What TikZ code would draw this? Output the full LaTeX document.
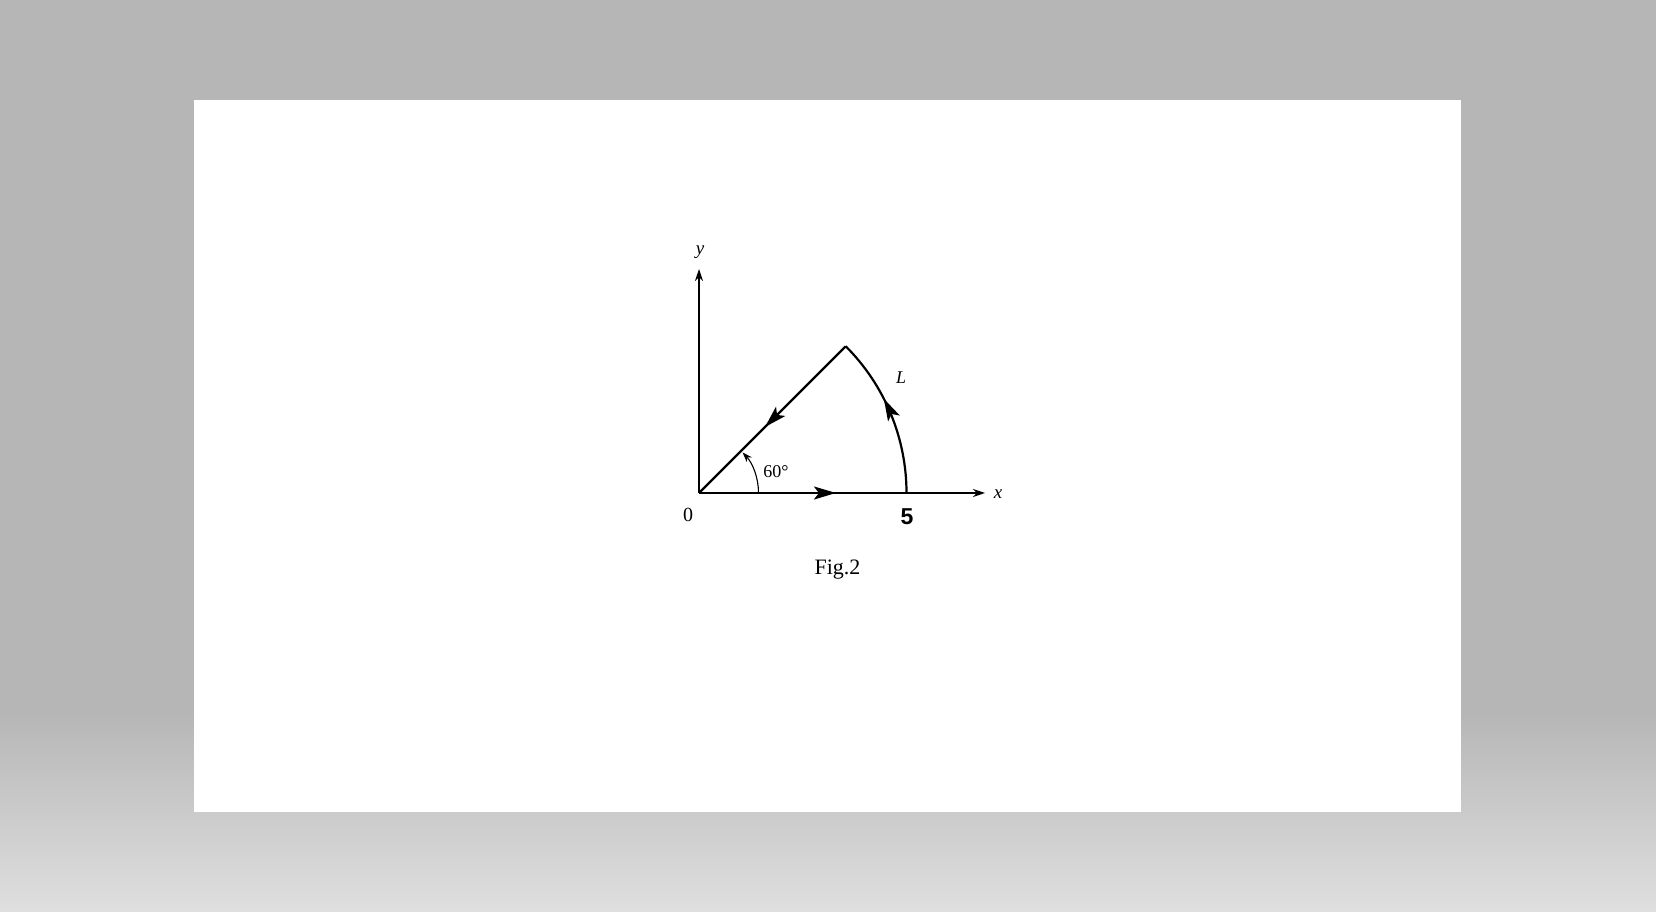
\documentclass[tikz,border=0pt]{standalone}
\usepackage{fontspec}
\setmainfont{Liberation Serif}
\newfontfamily\sansbold{Liberation Sans}
\usetikzlibrary{arrows.meta,decorations.markings,calc}
\definecolor{bggray}{HTML}{B5B6B5}
\definecolor{bglight}{HTML}{DEDFDE}
\begin{document}
\begin{tikzpicture}[x=1pt,y=1pt,
  axisline/.style={line width=1.3pt,-{Stealth[length=12pt,width=8pt]}},
  pathline/.style={line width=2.2pt},
  midarrow/.style={postaction={decorate},decoration={markings,
     mark=at position #1 with {\arrow{Stealth[length=22pt,width=13pt,inset=5pt]}}}},
  lbl/.style={inner sep=0pt,font=\fontsize{19}{22}\selectfont}]
\useasboundingbox (0,0) rectangle (1656,912);
\fill[bggray] (0,0) rectangle (1656,912);
\shade[top color=bggray,bottom color=bglight] (0,0) rectangle (1656,200);
\fill[white] (194,100) rectangle (1461,812);
% points
\coordinate (O) at (699,419);
\coordinate (A) at (906.5,419);
\coordinate (P) at (845.7,565.7);
\coordinate (Yend) at (699,643);
\coordinate (Xend) at (985,419);
\coordinate (Astart) at (758.5,419);
% axes
\draw[axisline] (O) -- (Yend);
\draw[axisline] (O) -- (Xend);
% closed path L
\draw[pathline,midarrow=0.66] (O) -- (A);
\draw[pathline,midarrow=0.6] (A) arc[start angle=0,end angle=45,radius=207.5];
\draw[pathline,midarrow=0.55,line join=round] (P) -- (O);
% angle mark
\draw[line width=1.1pt,-{Stealth[length=10pt,width=7pt]}] (Astart) arc[start angle=0,end angle=43,radius=59.5];
% labels
\node[lbl,font=\fontsize{19}{22}\selectfont\itshape] (ylab) at (700,660) {y};
\node[lbl,font=\fontsize{19}{22}\selectfont\itshape] (xlab) at (998,418) {x};
\node[lbl,font=\fontsize{20}{22}\selectfont] (zero) at (688,397) {0};
\node[lbl,font=\fontsize{23}{26}\selectfont\sansbold\bfseries] (five) at (907,395) {5};
\node[lbl,font=\fontsize{18}{20}\selectfont\itshape] (Llab) at (901,534) {L};
\node[lbl,font=\fontsize{18}{20}\selectfont] (ang) at (776,440) {60°};
\node[lbl,font=\fontsize{22}{26}\selectfont] (cap) at (837.5,342) {Fig.2};
\end{tikzpicture}
\end{document}
